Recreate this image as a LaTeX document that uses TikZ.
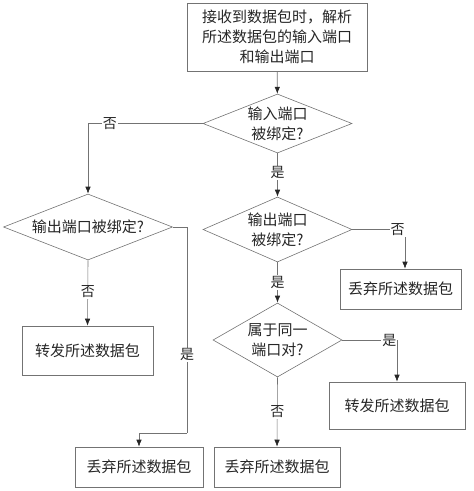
\documentclass[tikz,border=0pt]{standalone}
\usepackage{fontspec}
\newfontfamily\cjk{Noto Sans CJK SC}
\usetikzlibrary{arrows.meta,shapes.geometric}

\begin{document}
\begin{tikzpicture}[x=1pt,y=-1pt,
  line/.style={draw=black!55,line width=0.6pt},
  arr/.style={line,-{Latex[length=7pt,width=5.5pt,color=black!85]}},
  stepbox/.style={line,rectangle,inner sep=0pt,align=center,text=black!85,
    font=\cjk\fontsize{15}{20}\selectfont},
  test/.style={line,diamond,inner sep=0pt,align=center,text=black!85,
    font=\cjk\fontsize{15}{20}\selectfont},
  lbl/.style={fill=white,inner sep=1pt,text=black!85,
    font=\cjk\fontsize{14}{16}\selectfont}]
  \useasboundingbox (0,0) rectangle (474,491);
  % boxes and tests
  \node[stepbox,minimum width=180pt,minimum height=68pt] (start) at (277,37)
    {接收到数据包时，解析\\所述数据包的输入端口\\和输出端口};
  \node[test,aspect=2.5,minimum width=149pt,minimum height=59pt] (inbound) at (277.5,123.5) {输入端口\\被绑定?};
  \node[test,aspect=2.6,minimum width=169pt,minimum height=66pt] (outbound) at (88,227) {输出端口被绑定?};
  \node[test,aspect=2.3,minimum width=149pt,minimum height=65pt] (outbound2) at (277.5,229.5) {输出端口\\被绑定?};
  \node[test,aspect=1.7,minimum width=129pt,minimum height=74pt] (samepair) at (277.5,340) {属于同一\\端口对?};
  \node[stepbox,minimum width=121pt,minimum height=40pt] (dropR) at (400.5,289) {丢弃所述数据包};
  \node[stepbox,minimum width=131pt,minimum height=49pt] (fwdL) at (87.5,350.5) {转发所述数据包};
  \node[stepbox,minimum width=136pt,minimum height=47pt] (fwdR) at (397,405.5) {转发所述数据包};
  \node[stepbox,minimum width=126pt,minimum height=40pt] (dropM) at (277,467) {丢弃所述数据包};
  \node[stepbox,minimum width=128pt,minimum height=40pt] (dropL) at (139,467) {丢弃所述数据包};
  \coordinate (bend) at (187,433);
  % connectors
  \draw[arr] (start) -- (inbound);
  \draw[arr] (inbound.west) -| node[lbl,pos=0.405] {否} (outbound.north);
  \draw[arr] (inbound.south) -- node[lbl,pos=0.45] {是} (outbound2.north);
  \draw[line] (outbound.east) -| node[lbl,pos=0.81] {是} (bend);
  \draw[arr] (bend) -| (dropL.north);
  \draw[arr] (outbound2.east) -| node[lbl,pos=0.43] {否} ([xshift=4.5pt]dropR.north);
  \draw[arr] (outbound.south) -- node[lbl,pos=0.48] {否} (fwdL.north);
  \draw[arr] (outbound2.south) -- node[lbl,pos=0.5] {是} (samepair.north);
  \draw[arr] (samepair.east) -| node[lbl,pos=0.43] {是} (fwdR.north);
  \draw[arr] (samepair.south) -- node[lbl,pos=0.5] {否} (dropM.north);
\end{tikzpicture}
\end{document}
